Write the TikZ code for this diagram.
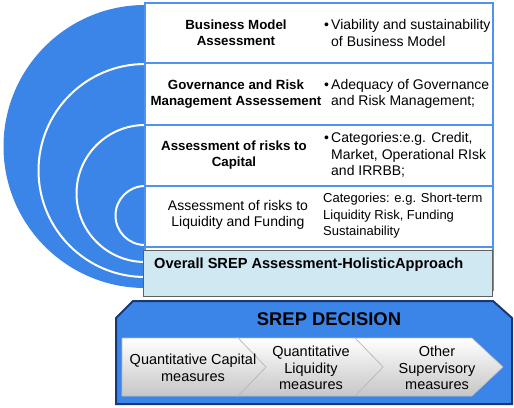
\documentclass[tikz,border=0pt]{standalone}
\usepackage{fontspec}
\setmainfont{Liberation Sans}
\definecolor{diskblue}{RGB}{60,133,232}
\definecolor{boxblue}{RGB}{80,146,240}
\definecolor{navy}{RGB}{25,55,115}
\definecolor{paleblue}{RGB}{208,232,242}
\tikzset{
  ring/.style={white,line width=2pt},
  divider/.style={boxblue,line width=1.5pt},
  lefttxt/.style={align=center,inner sep=0pt,font=\fontsize{13.3}{16}\selectfont\bfseries},
  lefttxtreg/.style={align=center,inner sep=0pt,font=\fontsize{14}{16}\selectfont},
  righttxt/.style={align=left,anchor=west,inner sep=0pt,font=\fontsize{14}{16.2}\selectfont},
  chev/.style={top color=white,bottom color=gray!45,draw=gray!55,line width=0.6pt},
  chevtxt/.style={align=center,inner sep=0pt,font=\fontsize{14.5}{16.5}\selectfont},
}
\newcommand{\bul}{\makebox[7pt][l]{\textbullet}}
\newcommand{\bulsp}{\hspace*{7pt}}
\begin{document}
\begin{tikzpicture}[x=1pt,y=-1pt]
\useasboundingbox (0,0) rectangle (514,407);
% half disc with rings
\begin{scope}
  \clip (0,0) rectangle (145,300);
  \fill[diskblue] (145,146.5) circle[radius=141.5pt];
  \draw[ring] (145,170.5) circle[radius=106.5pt];
  \draw[ring] (145,193.5) circle[radius=68.5pt];
  \draw[ring] (145,215.5) circle[radius=29.5pt];
\end{scope}
% outer table
\draw[boxblue,line width=1.5pt,fill=white] (145,3) rectangle (493,290);
\draw[divider] (145,63) -- (493,63);
\draw[divider] (145,125) -- (493,125);
\draw[divider] (145,186) -- (493,186);
\draw[divider] (145,247) -- (493,247);
% left column
\node[lefttxt] (l1) at (236,33) {Business Model\\Assessment};
\node[lefttxt] (l2) at (236,94) {Governance and Risk\\Management Assessement};
\node[lefttxt] (l3) at (234,155) {Assessment of risks to\\Capital};
\node[lefttxtreg] (l4) at (238,215) {Assessment of risks to\\Liquidity and Funding};
% right column
\node[righttxt] (r1) at (324,33) {\bul Viability and sustainability\\\bulsp of Business Model};
\node[righttxt] (r2) at (324,94) {\bul Adequacy of Governance\\\bulsp and Risk Management;};
\node[righttxt] (r3) at (324,155) {\bul Categories:e.g. Credit,\\\bulsp Market, Operational RIsk\\\bulsp and IRRBB;};
\node[righttxt,font=\fontsize{13}{16.5}\selectfont] (r4) at (323,216) {Categories: e.g. Short-term\\Liquidity Risk, Funding\\Sustainability};
% overall box
\draw[fill=paleblue,draw=gray!75!black,line width=1pt] (143,250) rectangle (492,296);
\node[lefttxt,font=\fontsize{14.6}{17}\selectfont\bfseries,anchor=west] (ov) at (154,265) {Overall SREP Assessment-HolisticApproach};
% SREP decision
\draw[fill=diskblue,draw=navy,line width=2pt] (133,301) -- (493,301) -- (512,318) -- (512,404) -- (116,404) -- (116,318) -- cycle;
\node[font=\fontsize{18.4}{20}\selectfont\bfseries,inner sep=0pt] (srep) at (329,319) {SREP DECISION};
% chevrons
\draw[chev] (355,338) -- (472,338) -- (503,367) -- (472,396) -- (355,396) -- (383,367) -- cycle;
\draw[chev] (238,338) -- (355,338) -- (383,367) -- (355,396) -- (238,396) -- (266,367) -- cycle;
\draw[chev] (122,338) -- (238,338) -- (266,367) -- (238,396) -- (122,396) -- cycle;
\node[chevtxt] (c1) at (193,368) {Quantitative Capital\\measures};
\node[chevtxt] (c2) at (311,368) {Quantitative\\Liquidity\\measures};
\node[chevtxt] (c3) at (437,368) {Other\\Supervisory\\measures};
\end{tikzpicture}
\end{document}
